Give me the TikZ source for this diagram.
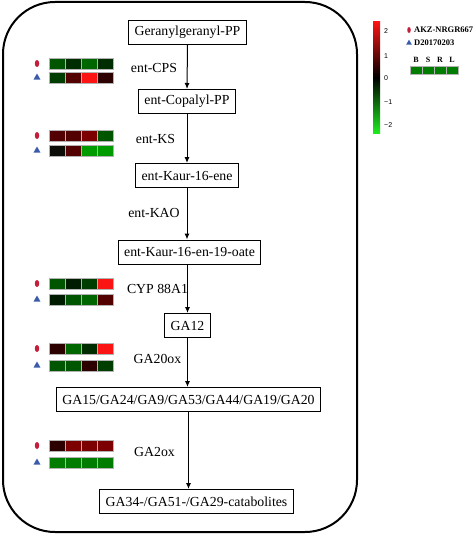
\documentclass[tikz,border=0pt]{standalone}
\usepackage{fontspec}
\setmainfont{Liberation Serif}
\setsansfont{Liberation Sans}
\usetikzlibrary{arrows.meta, positioning, calc, shapes.geometric}
\definecolor{markRed}{RGB}{196,30,58}
\definecolor{markBlue}{RGB}{58,92,168}
\definecolor{greenA}{RGB}{0,45,0}
\definecolor{greenB}{RGB}{0,62,0}
\definecolor{greenC}{RGB}{0,85,0}
\definecolor{greenD}{RGB}{0,102,0}
\definecolor{greenE}{RGB}{0,125,0}
\definecolor{greenF}{RGB}{0,155,0}
\definecolor{greenBlack}{RGB}{0,28,0}
\definecolor{nearBlack}{RGB}{12,12,8}
\definecolor{redA}{RGB}{45,0,0}
\definecolor{redB}{RGB}{82,0,0}
\definecolor{redC}{RGB}{125,0,0}
\definecolor{redD}{RGB}{250,20,20}
\definecolor{keyGreen}{RGB}{30,235,30}

\begin{document}
\begin{tikzpicture}[x=1pt,y=-1pt,
    stepbox/.style={draw, line width=1pt, minimum height=24pt, inner xsep=6pt, font=\fontsize{13.8}{16}\selectfont},
    enzyme/.style={font=\fontsize{13.8}{16}\selectfont},
    flow/.style={line width=1pt, -{Latex[length=6pt,width=5pt]}},
    redmark/.style={ellipse, fill=markRed, inner sep=0pt, minimum width=4.5pt, minimum height=7pt},
    bluemark/.style={isosceles triangle, shape border rotate=90, isosceles triangle apex angle=60, fill=markBlue, inner sep=0pt, minimum height=6pt},
    tick/.style={font=\sffamily\fontsize{7}{8}\selectfont, anchor=west, inner sep=0pt},
    legtext/.style={font=\bfseries\fontsize{8.5}{10}\selectfont, anchor=west, inner sep=0pt}]
\useasboundingbox (0,0) rectangle (474,535);
\draw[line width=2pt, rounded corners=52pt] (3,2) rectangle (357,532);

% pathway
\node[stepbox] (ggpp) at (187.5,32.5) {Geranylgeranyl-PP};
\node[stepbox] (cpp) at (187,101.5) {ent-Copalyl-PP};
\node[stepbox] (kene) at (187,175.5) {ent-Kaur-16-ene};
\node[stepbox] (koate) at (189.5,252) {ent-Kaur-16-en-19-oate};
\node[stepbox] (ga12) at (187.5,325.5) {GA12};
\node[stepbox] (gamid) at (188.5,399.5) {GA15/GA24/GA9/GA53/GA44/GA19/GA20};
\node[stepbox] (gacat) at (196.5,501.5) {GA34-/GA51-/GA29-catabolites};

\draw[flow] (ggpp.south) -- (cpp.north);
\draw[flow] (cpp.south) -- (kene.north);
\draw[flow] (kene.south) -- (koate.north -| kene.south);
\draw[flow] (koate.south -| ga12.north) -- (ga12.north);
\draw[flow] (ga12.south) -- (gamid.north -| ga12.south);
\draw[flow] (gamid.south) -- (gacat.north -| gamid.south);

\node[enzyme] (cps) at (154,68) {ent-CPS};
\node[enzyme] (ks) at (155.5,139) {ent-KS};
\node[enzyme] (kao) at (154,213) {ent-KAO};
\node[enzyme] (cyp) at (157.5,289) {CYP 88A1};
\node[enzyme] (ga20) at (157.5,359) {GA20ox};
\node[enzyme] (ga2) at (154.5,452) {GA2ox};

% heatmaps
\foreach \ytop/\colors in {58/{greenC,greenA,greenD,greenA}, 72/{greenB,redB,redD,redA},
    130/{redB,redB,redC,greenC}, 145/{nearBlack,redB,greenF,greenF},
    278/{greenC,greenBlack,greenB,redD}, 294/{greenBlack,greenC,greenD,redB},
    343/{redA,greenD,greenA,redD}, 360/{greenC,greenC,redA,greenB},
    440/{redA,redC,redC,redC}, 457/{greenE,greenE,greenE,greenE}} {
  \foreach \c [count=\i from 0] in \colors
    \filldraw[fill=\c, draw=gray!60, line width=0.3pt] (49+16*\i,\ytop) rectangle ++(16,11);
}
\foreach \yc in {63.5, 135.5, 283.5, 348.5, 445.5}
  \node[redmark] at (37,\yc) {};
\foreach \yc in {77.5, 150.5, 299.5, 365.5, 462.5}
  \node[bluemark] at (37,\yc) {};

% colour key
\shade[top color=redD, bottom color=keyGreen, middle color=black] (373,22) rectangle (380,133);
\node[tick] (t2) at (384,31) {2};
\node[tick] (t1) at (384,56) {1};
\node[tick] (t0) at (384,78) {0};
\node[tick] (tm1) at (384,102) {−1};
\node[tick] (tm2) at (384,125) {−2};

\node[redmark, minimum width=3.5pt, minimum height=6pt] (legR) at (409,30) {};
\node[legtext] at (414,30) {AKZ-NRGR667};
\node[bluemark, minimum height=5pt] (legB) at (409,43) {};
\node[legtext] at (414,43) {D20170203};
\foreach \t [count=\i from 0] in {B,S,R,L} {
  \node[font=\bfseries\fontsize{8}{9}\selectfont, inner sep=0pt] at (416+12*\i,60) {\t};
  \filldraw[fill=greenE, draw=gray!60, line width=0.3pt] (410+12*\i,66) rectangle ++(12,8);
}
\end{tikzpicture}
\end{document}
